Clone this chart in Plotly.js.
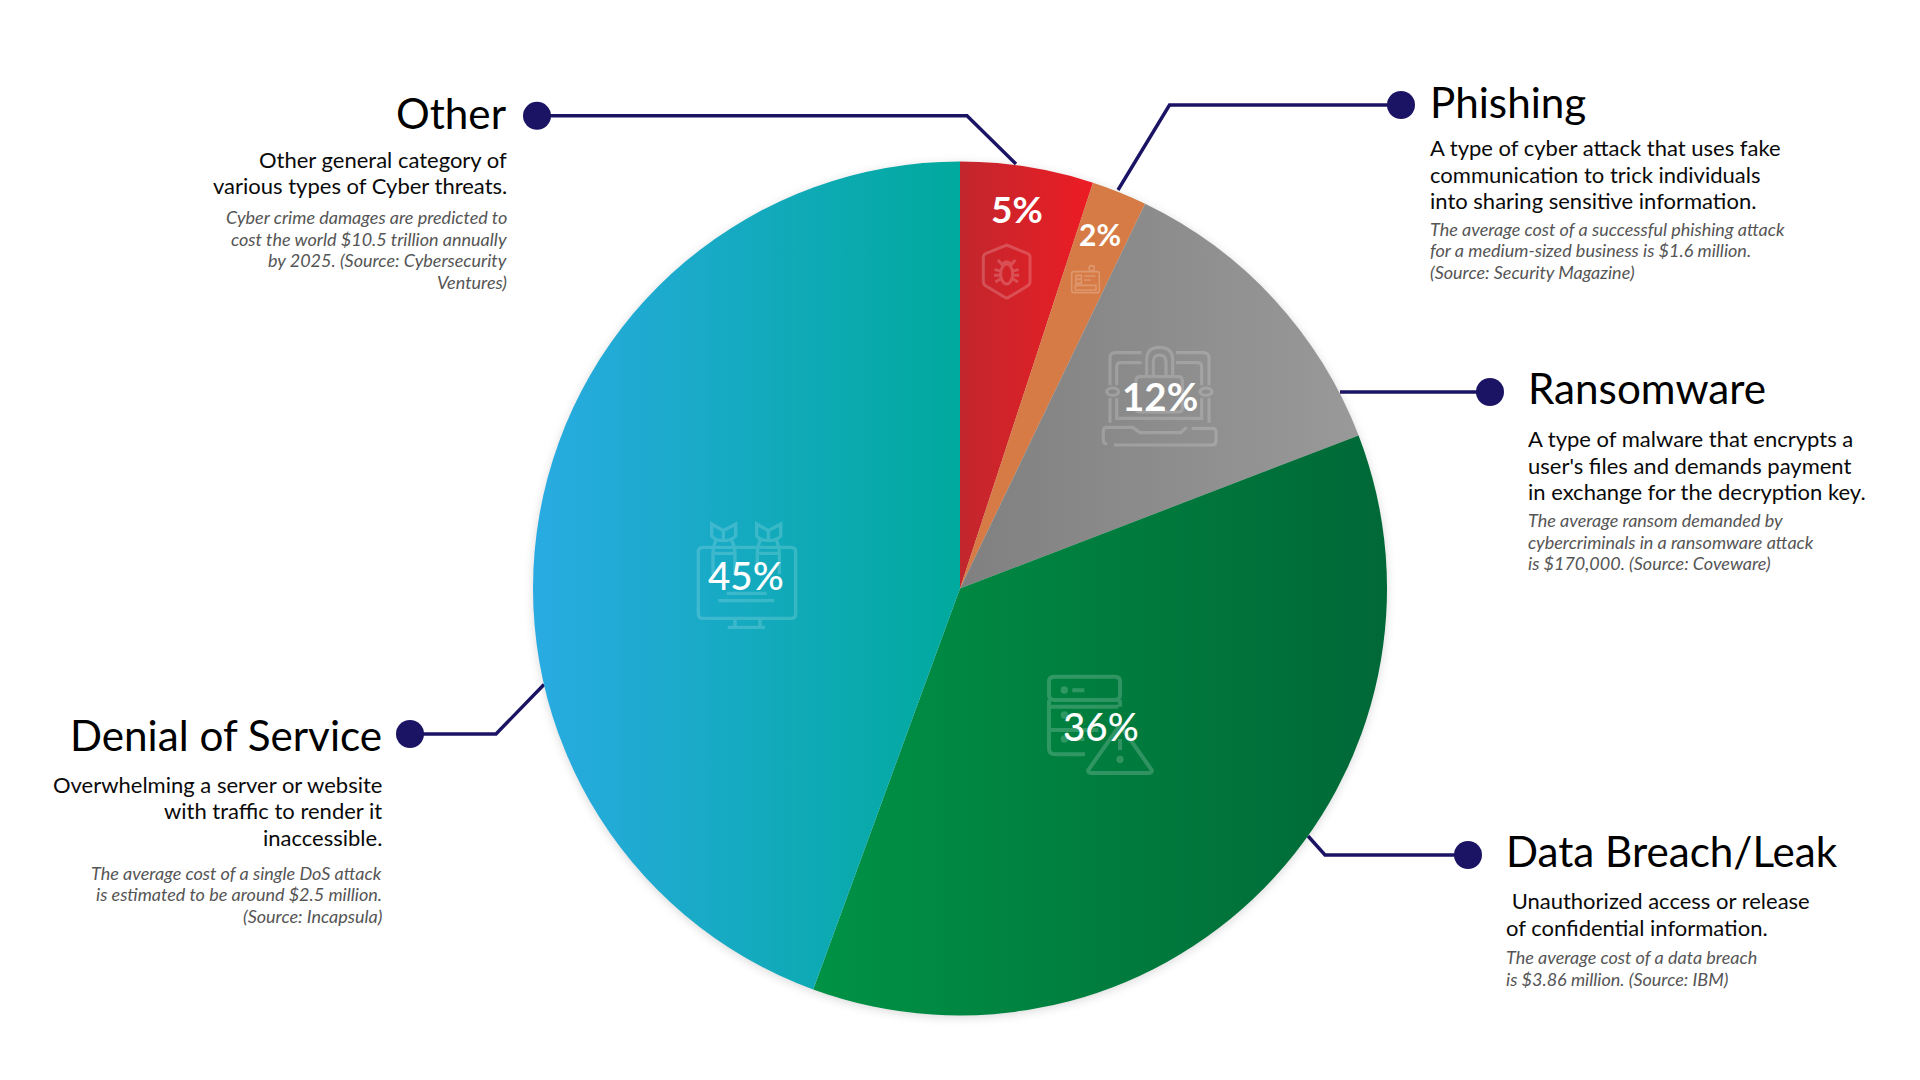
<!DOCTYPE html>
<html><head><meta charset="utf-8">
<script src="https://cdn.plot.ly/plotly-3.0.1.min.js"></script>
<style>html,body{margin:0;padding:0;background:#fff}#chart{width:1920px;height:1080px}</style>
</head><body><div id="chart"></div>
<script>
// ---- data ----
const categories = ['Other','Phishing','Ransomware','Data Breach/Leak','Denial of Service'];
const shares = [5.05, 2.1, 12.05, 36.49, 44.5];
const summaries = [
 ['Other general category of','various types of Cyber threats.'],
 ['A type of cyber attack that uses fake','communication to trick individuals','into sharing sensitive information.'],
 ['A type of malware that encrypts a',"user's files and demands payment",'in exchange for the decryption key.'],
 ['\u00A0Unauthorized access or release','of confidential information.'],
 ['Overwhelming a server or website','with traffic to render it','inaccessible.']
];
const notes = [
 ['Cyber crime damages are predicted to','cost the world $10.5 trillion annually','by 2025. (Source: Cybersecurity','Ventures)'],
 ['The average cost of a successful phishing attack','for a medium-sized business is $1.6 million.','(Source: Security Magazine)'],
 ['The average ransom demanded by','cybercriminals in a ransomware attack','is $170,000. (Source: Coveware)'],
 ['The average cost of a data breach','is $3.86 million. (Source: IBM)'],
 ['The average cost of a single DoS attack','is estimated to be around $2.5 million.','(Source: Incapsula)']
];

// ---- layout / style (pixels on the 1920x1080 page) ----
const W=1920,H=1080, CX=960,CY=588.5,R=427;
const px=x=>x/W, py=y=>1-y/H;
const NAVY='#1B1464', INK='#0a0a0a', NOTE='#555555', FONT='Lato, sans-serif';
const gradients=[['#C1272D','#ED1C24'],['#D67B45','#D67B45'],['#808080','#999999'],['#009245','#006837'],['#29ABE2','#00A99D']];
const pctPos=[[1017.5,208,37,700],[1100,234,30,700],[1160,396,38.5,700],[1100.5,725.5,38.5,500],[746,575,38.5,500]];
const blocks=[
 {anchor:'right',x:508,title:112,body:159,note:217},
 {anchor:'left', x:1428.5,title:101.5,body:147.6,note:228.5},
 {anchor:'left', x:1526.5,title:387.5,body:438.6,note:520},
 {anchor:'left', x:1504.5,title:850.5,body:900.5,note:957},
 {anchor:'right',x:383,title:734.5,body:784,note:872.5}
];
const BODY_STEP=26.6, NOTE_STEP=21.7;
const leaders=[
 [[537,115.8],[967,115.8],[1016,164]],
 [[1401,105],[1169.5,105],[1118,190]],
 [[1490,392],[1340,392]],
 [[1468,855],[1325,855],[1308,836]],
 [[410,734],[496,734],[544,684.5]]
];

const shapes=[];
leaders.forEach(pts=>{
  shapes.push({type:'path',xref:'paper',yref:'paper',layer:'below',
    path:pts.map((p,i)=>(i?'L':'M')+px(p[0])+' '+py(p[1])).join(' '),
    line:{color:NAVY,width:3.4},fillcolor:'rgba(0,0,0,0)'});
  const d=pts[0];
  shapes.push({type:'circle',xref:'paper',yref:'paper',layer:'above',
    x0:px(d[0]-14),x1:px(d[0]+14),y0:py(d[1]+14),y1:py(d[1]-14),
    fillcolor:NAVY,line:{width:0}});
});

// faint decorative icons: drawn in crop-local units (3 units per pixel) then mapped to the page
function ell(cx,cy,rx,ry){const k=.5523;return `M${cx-rx} ${cy} C${cx-rx} ${cy-k*ry} ${cx-k*rx} ${cy-ry} ${cx} ${cy-ry} C${cx+k*rx} ${cy-ry} ${cx+rx} ${cy-k*ry} ${cx+rx} ${cy} C${cx+rx} ${cy+k*ry} ${cx+k*rx} ${cy+ry} ${cx} ${cy+ry} C${cx-k*rx} ${cy+ry} ${cx-rx} ${cy+k*ry} ${cx-rx} ${cy} Z `;}
function icon(d,ox,oy,width,op){
  const toks=d.trim().split(/\s+|(?=[MLCQZ])|(?<=[MLCQZ])/).filter(Boolean);
  let isX=true,out='';
  toks.forEach(t=>{
    if(/[MLCQZ]/.test(t)){out+=t+' ';isX=true;}
    else{const v=parseFloat(t);out+=(isX?px(ox+v/3):py(oy+v/3))+' ';isX=!isX;}
  });
  shapes.push({type:'path',xref:'paper',yref:'paper',layer:'above',path:out,
    line:{color:'rgba(255,255,255,'+op+')',width},fillcolor:'rgba(0,0,0,0)'});
}
// shield with bug
icon('M110 45 L172 70 Q180 73 180 82 L180 155 Q180 163 172 168 L116 202 Q110 206 104 202 L48 168 Q40 163 40 155 L40 82 Q40 73 48 70 Z '+ell(110,132,18,30)+
 'M84 90 L98 106 M136 90 L122 106 M74 118 L92 124 M146 118 L128 124 M72 136 L90 136 M148 136 L130 136 M76 156 L92 146 M144 156 L128 146 M94 104 Q110 86 126 104',
 970,230,3,.2);
// small keyboard panel
icon('M312 125 L382 125 Q388 125 388 131 L388 182 Q388 188 382 188 L312 188 Q305 188 305 182 L305 131 Q305 125 312 125 Z M318 136 L334 136 L334 160 L318 160 Z M318 148 L334 148 M342 138 L376 138 M342 150 L362 150 M316 166 L378 166 L378 180 L316 180 Z '+ell(365,115,8,8),
 970,230,1.6,.22);
// laptop with padlock
icon('M155 38 L76 38 Q60 38 60 54 L60 136 M258 38 L340 38 Q357 38 357 54 L357 136 M155 68 L92 68 Q80 68 80 80 L80 136 M258 68 L322 68 Q335 68 335 80 L335 136 '+
 'M60 174 L60 248 M80 174 L80 235 L335 235 L335 174 M357 174 L357 248 '+
 'M50 262 L128 262 L150 278 L272 278 L290 262 M305 265 L368 265 Q378 265 378 275 L378 303 Q378 315 366 315 L72 315 M52 312 Q40 312 40 300 L40 275 Q40 262 50 262 '+
 'M170 108 L170 60 Q170 22 208 22 Q248 22 248 60 L248 108 M190 108 L190 66 Q190 45 208 45 Q228 45 228 66 L228 108 '+
 'M150 110 L265 110 Q277 110 277 122 L277 205 Q277 216 265 216 L150 216 Q138 216 138 205 L138 122 Q138 110 150 110 Z '+ell(68,155,18,11)+ell(348,155,18,11),
 1090,340,3.2,.18);
// monitor with two missiles
icon('M54 112 L318 112 Q332 112 332 126 L332 311 Q332 325 318 325 L54 325 Q40 325 40 311 L40 126 Q40 112 54 112 Z M150 325 L150 350 M225 325 L225 350 M128 352 L240 352 M125 250 L245 250 M100 272 L268 272 '+
 'M80 42 L115 62 L152 42 L152 78 Q140 92 115 92 Q90 92 80 78 Z M115 62 L115 92 M92 92 Q84 110 84 130 L84 192 M140 92 Q150 110 150 130 L150 192 M84 130 L150 130 '+
 'M215 42 L250 62 L287 42 L287 78 Q275 92 250 92 Q225 92 215 78 Z M250 62 L250 92 M225 92 Q217 110 217 130 L217 192 M275 92 Q283 110 283 130 L283 192 M217 130 L283 130',
 685,510,3.4,.17);
// server stack with warning triangle
icon('M58 35 L240 35 Q255 35 255 50 L255 90 Q255 105 240 105 L58 105 Q42 105 42 90 L42 50 Q42 35 58 35 Z M112 76 L148 76 '+ell(88,75,5,5)+
 'M42 105 L42 195 M255 105 L255 125 M42 125 L250 125 M112 150 L138 150 '+ell(88,150,5,5)+
 'M42 195 L190 195 M42 195 L42 250 Q42 268 60 268 L150 268 M112 222 L148 222 '+ell(88,222,5,5)+
 'M255 180 L350 315 Q352 324 342 324 L168 324 Q158 324 160 315 Z M255 222 L255 255 '+ell(255,283,5,5),
 1035,665,4,.19);

const annotations=[];
function note(x,y,text,size,color,anchor,extra){
  annotations.push(Object.assign({xref:'paper',yref:'paper',x:px(x),y:py(y),xanchor:anchor,yanchor:'middle',align:anchor,
    showarrow:false,text,font:{family:FONT,size,color},borderpad:0},extra||{}));
}
categories.forEach((c,i)=>{
  const b=blocks[i];
  note(b.x,b.title,c,42.2,'#000',b.anchor);
  summaries[i].forEach((t,k)=>note(b.x,b.body+k*BODY_STEP,t,22,INK,b.anchor));
  notes[i].forEach((t,k)=>note(b.x,b.note+k*NOTE_STEP,'<i>'+t+'</i>',18,NOTE,b.anchor));
  const p=pctPos[i];
  annotations.push({xref:'paper',yref:'paper',x:px(p[0]),y:py(p[1]),xanchor:'center',yanchor:'middle',showarrow:false,
    text:Math.round(shares[i])+'%',font:{family:FONT,size:p[2],color:'#fff',weight:p[3]}});
});

const trace={type:'pie',labels:categories,values:shares,sort:false,direction:'clockwise',rotation:0,
  textinfo:'none',hoverinfo:'label+percent',showlegend:false,automargin:false,
  marker:{colors:gradients.map(g=>g[1]),line:{width:0}},
  domain:{x:[px(CX-R),px(CX+R)],y:[py(CY+R),py(CY-R)]}};
const layout={width:W,height:H,margin:{l:0,r:0,t:0,b:0},paper_bgcolor:'#fff',plot_bgcolor:'#fff',showlegend:false,shapes,annotations};

Plotly.newPlot('chart',[trace],layout,{displayModeBar:false,responsive:false}).then(gd=>{
  // horizontal gradient on each slice
  const NS='http://www.w3.org/2000/svg';
  const svg=gd.querySelector('.main-svg');
  let defs=svg.querySelector('defs'); if(!defs){defs=document.createElementNS(NS,'defs');svg.prepend(defs);}
  gd.querySelectorAll('.slice path.surface').forEach((el,i)=>{
    const g=document.createElementNS(NS,'linearGradient');
    g.setAttribute('id','sliceGrad'+i);g.setAttribute('x1','0');g.setAttribute('x2','1');g.setAttribute('y1','0');g.setAttribute('y2','0');
    gradients[i].forEach((col,k)=>{const s=document.createElementNS(NS,'stop');s.setAttribute('offset',k);s.setAttribute('stop-color',col);g.appendChild(s);});
    defs.appendChild(g);
    el.style.fill='url(#sliceGrad'+i+')';
  });
  const pl=gd.querySelector('.pielayer');
  if(pl) pl.style.filter='drop-shadow(0 2px 5px rgba(0,0,0,.15))';
});
</script></body></html>
